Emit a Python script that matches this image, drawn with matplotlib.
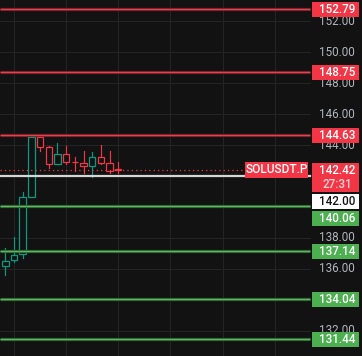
import matplotlib
matplotlib.use("Agg")
import matplotlib.pyplot as plt
from matplotlib.patches import Rectangle

plt.rcParams['font.family'] = ['Roboto', 'DejaVu Sans']

# candles (hollow style), oldest first
opens  = [136.17, 136.54, 136.95, 140.62, 144.50, 143.86, 142.76, 143.40, 142.92, 142.86, 142.67, 143.21, 142.82, 142.44]
highs  = [137.36, 138.07, 140.98, 144.62, 144.55, 143.94, 144.12, 143.94, 143.25, 143.60, 143.53, 143.99, 143.62, 142.89]
lows   = [135.59, 136.41, 136.67, 140.62, 143.64, 142.50, 142.76, 142.76, 142.32, 142.17, 141.96, 142.76, 142.21, 142.21]
closes = [136.52, 136.91, 140.62, 144.54, 143.86, 142.76, 143.40, 142.89, 142.88, 142.67, 143.21, 142.82, 142.34, 142.42]

red_levels = [152.79, 148.75, 144.63]
green_levels = [140.06, 137.14, 134.04, 131.44]
white_level = 142.00
last_price = 142.42
countdown = "27:31"
symbol = "SOLUSDT.P"
ticks = [132, 134, 136, 138, 140, 142, 144, 146, 148, 150, 152]

BG = '#121212'
GRID = '#242424'
UP = '#089981'
DN = '#f23645'
RED_LBL = '#f23645'
GRN_LBL = '#4caf50'
TICK_C = '#b2b5be'

W, H = 362, 356
YMIN, YMAX = 130.35, 153.39
BAR_PX, X0_PX = 8.69, 5.3

fig = plt.figure(figsize=(W / 100, H / 100), dpi=100, facecolor=BG)
ax = fig.add_axes([0, 0, 1, 1])
ax.set_facecolor(BG)
ax.axis('off')
ax.set_xlim(-X0_PX / BAR_PX, (W - X0_PX) / BAR_PX)
ax.set_ylim(YMIN, YMAX)

def px_x(px):
    return (px - X0_PX) / BAR_PX

def y_px(price):
    return (YMAX - price) * H / (YMAX - YMIN)

def px_y(py):
    return YMAX - py * (YMAX - YMIN) / H

xl = ax.get_xlim()[0]
right = px_x(310)

# grid
for t in ticks:
    ax.plot([xl, right], [t, t], color=GRID, lw=0.8, zorder=1)
for i in range(1, 36, 6):
    ax.plot([i, i], [YMIN, YMAX], color=GRID, lw=0.8, zorder=1)

# candles
for i, (o, h, l, c) in enumerate(zip(opens, highs, lows, closes)):
    col = UP if c >= o else DN
    ax.plot([i, i], [l, h], color=col, lw=0.85, zorder=3)
    ax.add_patch(Rectangle((i - 0.37, min(o, c)), 0.74, max(abs(c - o), 0.01),
                           fc=BG, ec=col, lw=0.9, zorder=4))

# horizontal levels
for lv in red_levels:
    ax.plot([xl, right], [lv, lv], color='#6a1c24', lw=2.3, zorder=5, solid_capstyle='butt')
    ax.plot([xl, right], [lv, lv], color='#e0424f', lw=1.0, zorder=6, solid_capstyle='butt')
for lv in green_levels:
    ax.plot([xl, right], [lv, lv], color='#2b5a2e', lw=2.3, zorder=5, solid_capstyle='butt')
    ax.plot([xl, right], [lv, lv], color='#5cb660', lw=1.0, zorder=6, solid_capstyle='butt')
ax.plot([xl, right], [white_level] * 2, color='#d6d6d6', lw=1.6, zorder=5)
ax.plot([xl, right], [last_price] * 2, color=DN, lw=0.9, ls=(0, (1, 2.5)), zorder=5)

# symbol tag on the last price line
sy = y_px(last_price)
ax.add_patch(Rectangle((px_x(245), px_y(sy + 8)), px_x(308) - px_x(245),
                       px_y(sy - 8) - px_y(sy + 8), fc=RED_LBL, ec='none', zorder=8))
ax.text(px_x(276.5), last_price, symbol, color='white', fontsize=8.6, fontweight='medium',
        ha='center', va='center', zorder=9)

# price-scale tags, stacked so they do not overlap
tags = [(lv, [f"{lv:.2f}"], RED_LBL, 'white') for lv in red_levels]
tags.append((last_price, [f"{last_price:.2f}", countdown], RED_LBL, 'white'))
tags.append((white_level, [f"{white_level:.2f}"], 'white', '#131313'))
tags += [(lv, [f"{lv:.2f}"], GRN_LBL, 'white') for lv in green_levels]
tags.sort(key=lambda t: -t[0])

spans = []
bottom = -100
for price, lines, fc, tc in tags:
    top = max(y_px(price) - 7, bottom + 2)
    hgt = 15 + 14 * (len(lines) - 1)
    bottom = top + hgt
    spans.append((top, bottom))
    ax.add_patch(Rectangle((px_x(311.5), px_y(bottom)), px_x(359) - px_x(311.5),
                           px_y(top) - px_y(bottom), fc=fc, ec='none', zorder=8))
    for k, s in enumerate(lines):
        col = tc if k == 0 else '#fbd3d6'
        ax.text(px_x(337), px_y(top + 7.5 + 14 * k), s, color=col, fontsize=8.4,
                fontweight='medium', ha='center', va='center', zorder=9)

# price-scale tick labels (skip the ones sitting behind a tag)
for t in ticks:
    ty = y_px(t)
    if any(a <= ty <= b for a, b in spans):
        continue
    ax.text(px_x(337), t, f"{t:.2f}", color=TICK_C, fontsize=8.4,
            ha='center', va='center', zorder=7)

fig.savefig('out.png', dpi=100, facecolor=BG)
